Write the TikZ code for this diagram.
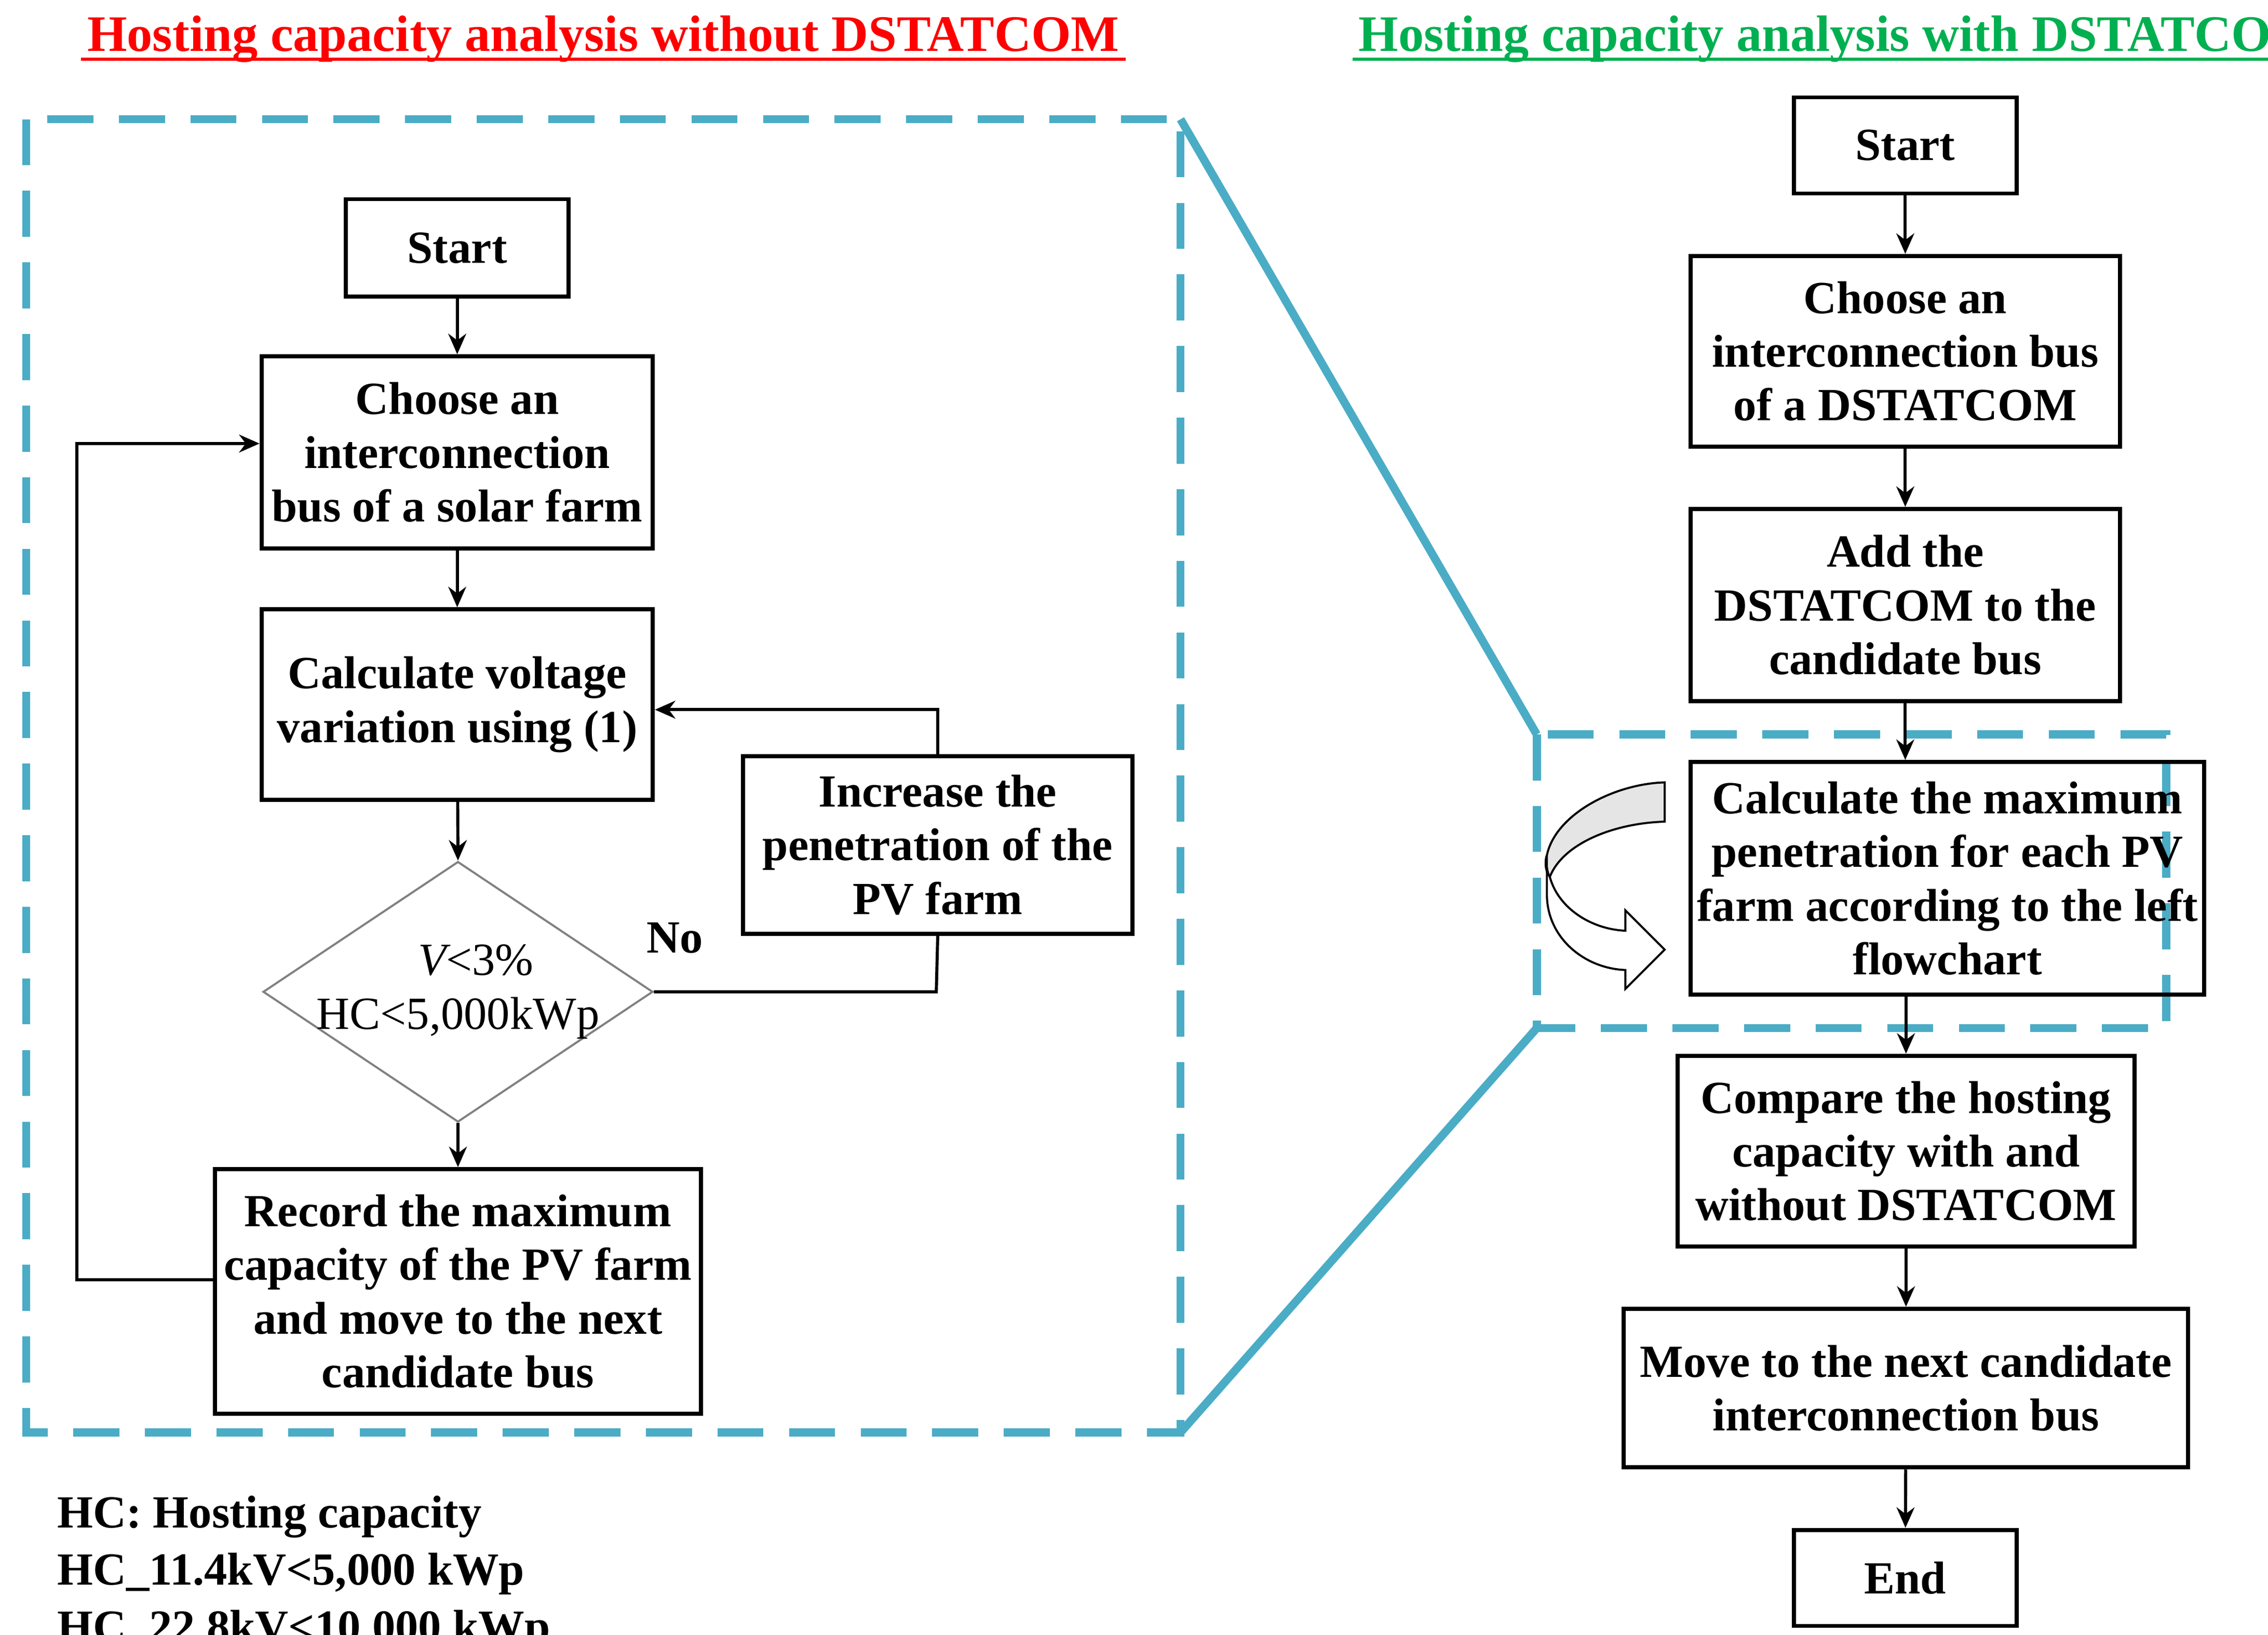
\documentclass[tikz,border=0pt]{standalone}
\usepackage{fontspec}
\setmainfont{Liberation Serif}
\usetikzlibrary{arrows.meta,shapes.geometric}
\begin{document}
\begin{tikzpicture}[x=0.01cm,y=-0.01cm,
 box/.style={draw,thick,align=center,font=\fontsize{9}{10.5}\selectfont\bfseries,inner sep=0pt},
 arr/.style={-{Stealth[length=4pt,width=3.5pt]},semithick},
 bluedash/.style={draw={rgb,255:red,75;green,172;blue,198},line width=1.6pt,dash pattern=on 9pt off 5pt}]
\useasboundingbox (0,0) rectangle (1560,1124);
\definecolor{tred}{RGB}{255,0,0}
\definecolor{tgreen}{RGB}{0,176,80}
\node[font=\fontsize{10}{12}\selectfont\bfseries,text=tred,inner sep=1pt] (t1) at (415,27) {Hosting capacity analysis without DSTATCOM};
\draw[tred,semithick] ([yshift=-1.5pt]t1.base west) -- ([yshift=-1.5pt]t1.base east);
\node[font=\fontsize{10}{12}\selectfont\bfseries,text=tgreen,inner sep=1pt] (t2) at (1265,27) {Hosting capacity analysis with DSTATCOM};
\draw[tgreen,semithick] ([yshift=-1.5pt]t2.base west) -- ([yshift=-1.5pt]t2.base east);
\draw[bluedash] (18,82) rectangle (812,985);
\draw[bluedash] (1057,505) rectangle (1490,707);
\draw[draw={rgb,255:red,75;green,172;blue,198},line width=1.6pt] (812,82) -- (1057,505) (812,985) -- (1057,707);
% left
\node[box,minimum width=1.53cm,minimum height=0.67cm] (s) at (314.5,170.5) {Start};
\node[box,minimum width=2.69cm,minimum height=1.32cm] (c) at (314.5,311) {Choose an\\interconnection\\bus of a solar farm};
\node[box,minimum width=2.69cm,minimum height=1.31cm] (v) at (314.5,484.5) {Calculate voltage\\variation using (1)};
\node[box,minimum width=2.68cm,minimum height=1.22cm] (i) at (645,581) {Increase the\\penetration of the\\PV farm};
\node[draw,gray,thin,diamond,aspect=1.5,minimum width=2.68cm,minimum height=1.79cm,inner sep=0pt] (d) at (315,682) {};
\node[align=center,font=\fontsize{9}{10.5}\selectfont] (dt) at (315,682) {$\mathit{\Delta V}$<3\%\\HC<5,000kWp};
\node[box,minimum width=3.34cm,minimum height=1.68cm] (r) at (315,888) {Record the maximum\\capacity of the PV farm\\and move to the next\\candidate bus};
\draw[arr] (s) -- (c);
\draw[arr] (c) -- (v);
\draw[arr] (v) -- (d.north);
\draw[arr] (d.south) -- (r);
\draw[semithick] (d.east) -- (644,682) -- (i.south);
\draw[arr] (i.north) |- (v.east |- 0,488);
\coordinate (rl) at (53,880);
\draw[arr] (r.west |- rl) -- (rl) -- (53,305) -- (c.west |- 0,305);
\node[font=\fontsize{9}{10.5}\selectfont\bfseries] (no) at (464,645) {No};
\node[align=left,anchor=north west,font=\fontsize{9}{11.2}\selectfont\bfseries] (leg) at (27,1016) {HC: Hosting capacity\\HC\_11.4kV<5,000 kWp\\HC\_22.8kV<10,000 kWp};
% right
\node[box,minimum width=1.53cm,minimum height=0.66cm] (s2) at (1310.5,100) {Start};
\node[box,minimum width=2.95cm,minimum height=1.31cm] (c2) at (1310.5,241.5) {Choose an\\interconnection bus\\of a DSTATCOM};
\node[box,minimum width=2.95cm,minimum height=1.32cm] (a2) at (1310.5,416) {Add the\\DSTATCOM to the\\candidate bus};
\node[box,minimum width=3.53cm,minimum height=1.60cm] (m2) at (1339.5,604) {Calculate the maximum\\penetration for each PV\\farm according to the left\\flowchart};
\node[box,minimum width=3.14cm,minimum height=1.31cm] (p2) at (1311,791.5) {Compare the hosting\\capacity with and\\without DSTATCOM};
\node[box,minimum width=3.88cm,minimum height=1.09cm] (n2) at (1311,954.5) {Move to the next candidate\\interconnection bus};
\node[box,minimum width=1.53cm,minimum height=0.66cm] (e2) at (1310.5,1085) {End};
\draw[arr] (s2) -- (c2);
\draw[arr] (c2) -- (a2);
\draw[arr] (a2.south) -- (a2.south |- m2.north);
\draw[arr] (m2.south -| p2.north) -- (p2.north);
\draw[arr] (p2) -- (n2);
\draw[arr] (n2) -- (e2);
% curved arrow
\draw[thin,fill=gray!20] (1145,538) -- (1145,565) .. controls (1110,566) and (1075,580) .. (1066,603) .. controls (1062,598) and (1063,590) .. (1064,588) .. controls (1070,560) and (1110,539) .. (1145,538) -- cycle;
\draw[thin,fill=white] (1064,588) -- (1064,615) .. controls (1064,645) and (1090,666) .. (1118,667) -- (1118,680) -- (1145,653) -- (1118,626) -- (1118,640) .. controls (1095,639) and (1072,625) .. (1066,603) .. controls (1063,598) and (1064,590) .. (1064,588) -- cycle;
\end{tikzpicture}
\end{document}
